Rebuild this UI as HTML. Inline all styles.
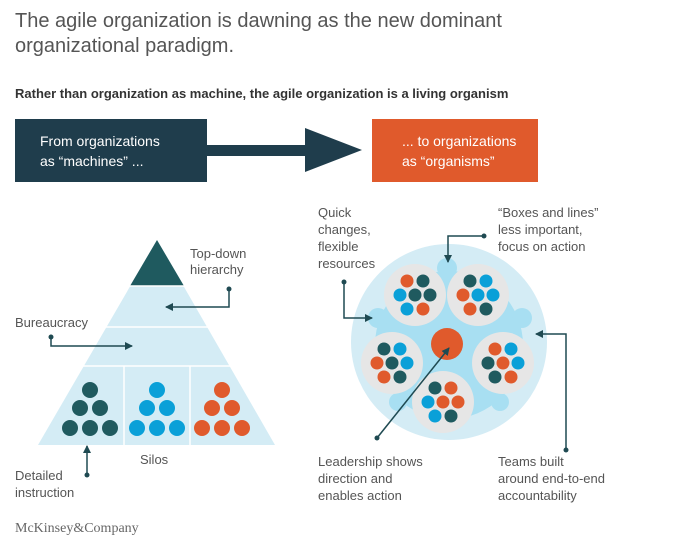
<!DOCTYPE html>
<html><head><meta charset="utf-8"><style>
body{margin:0;width:700px;height:549px;background:#fff;overflow:hidden;font-family:"Liberation Sans",sans-serif}
</style></head><body>
<svg width="700" height="549" xmlns="http://www.w3.org/2000/svg" font-family="Liberation Sans, sans-serif">
<defs>
<marker id="ah" markerWidth="8" markerHeight="8" refX="7" refY="4" orient="auto" markerUnits="userSpaceOnUse"><path d="M0,0L8,4L0,8z" fill="#1f4a52"/></marker>
</defs>
<text x="15" y="27" font-size="20" fill="#555">The agile organization is dawning as the new dominant</text>
<text x="15" y="52" font-size="20" fill="#555">organizational paradigm.</text>
<text x="15" y="98" font-size="13" font-weight="bold" fill="#333">Rather than organization as machine, the agile organization is a living organism</text>
<rect x="15" y="119" width="192" height="63" fill="#1f3d4c"/>
<text x="40" y="146" font-size="14" fill="#fff">From organizations</text>
<text x="40" y="166" font-size="14" fill="#fff">as “machines” ...</text>
<path d="M207,145H305V128L362,150L305,172V156H207z" fill="#1f3d4c"/>
<rect x="372" y="119" width="166" height="63" fill="#e05a2c"/>
<text x="402" y="146" font-size="14" fill="#fff">... to organizations</text>
<text x="402" y="166" font-size="14" fill="#fff">as “organisms”</text>
<!-- pyramid -->
<polygon points="157,240 38,445 275,445" fill="#d4ecf5"/>
<polygon points="157,240 130,286 184,286" fill="#1f5a5f"/>
<line x1="130" y1="286" x2="184" y2="286" stroke="#fff" stroke-width="1.5"/>
<line x1="100" y1="327" x2="215" y2="327" stroke="#fff" stroke-width="1.5"/>
<line x1="76" y1="366" x2="240" y2="366" stroke="#fff" stroke-width="1.5"/>
<line x1="124" y1="366" x2="124" y2="445" stroke="#fff" stroke-width="1.5"/>
<line x1="190" y1="366" x2="190" y2="445" stroke="#fff" stroke-width="1.5"/>
<g fill="#1f5a5f"><circle cx="90" cy="390" r="8"/><circle cx="80" cy="408" r="8"/><circle cx="100" cy="408" r="8"/><circle cx="70" cy="428" r="8"/><circle cx="90" cy="428" r="8"/><circle cx="110" cy="428" r="8"/></g>
<g fill="#0aa0d8"><circle cx="157" cy="390" r="8"/><circle cx="147" cy="408" r="8"/><circle cx="167" cy="408" r="8"/><circle cx="137" cy="428" r="8"/><circle cx="157" cy="428" r="8"/><circle cx="177" cy="428" r="8"/></g>
<g fill="#e05a2c"><circle cx="222" cy="390" r="8"/><circle cx="212" cy="408" r="8"/><circle cx="232" cy="408" r="8"/><circle cx="202" cy="428" r="8"/><circle cx="222" cy="428" r="8"/><circle cx="242" cy="428" r="8"/></g>
<g font-size="13" fill="#555">
<text x="190" y="258">Top-down</text><text x="190" y="274">hierarchy</text>
<text x="15" y="327">Bureaucracy</text>
<text x="140" y="464">Silos</text>
<text x="15" y="480">Detailed</text><text x="15" y="497">instruction</text>
</g>
<g stroke="#1f4a52" stroke-width="1.5" fill="none">
<path d="M229,289V307H166" marker-end="url(#ah)"/>
<path d="M51,337V346H132" marker-end="url(#ah)"/>
<path d="M87,475V446" marker-end="url(#ah)"/>
</g>
<g fill="#1f4a52"><circle cx="229" cy="289" r="2.5"/><circle cx="51" cy="337" r="2.5"/><circle cx="87" cy="475" r="2.5"/></g>
<!-- organism -->
<circle cx="449" cy="342" r="98" fill="#d4ecf5"/>
<circle cx="449" cy="345" r="74" fill="#a8dff2"/>
<g fill="#a8dff2"><circle cx="447" cy="268" r="10"/><circle cx="378" cy="318" r="10"/><circle cx="522" cy="318" r="10"/><circle cx="398" cy="402" r="9"/><circle cx="500" cy="402" r="9"/></g>
<g fill="#e6e6e6"><circle cx="415" cy="295" r="31"/><circle cx="478" cy="295" r="31"/><circle cx="392" cy="363" r="31"/><circle cx="503" cy="363" r="31"/><circle cx="443" cy="402" r="31"/></g>
<circle cx="447" cy="344" r="16" fill="#e05a2c"/>
<!-- dots -->
<g><circle cx="407" cy="281" r="6.5" fill="#e05a2c"/><circle cx="423" cy="281" r="6.5" fill="#1f5a5f"/>
<circle cx="400" cy="295" r="6.5" fill="#0aa0d8"/><circle cx="415" cy="295" r="6.5" fill="#1f5a5f"/><circle cx="430" cy="295" r="6.5" fill="#1f5a5f"/>
<circle cx="407" cy="309" r="6.5" fill="#0aa0d8"/><circle cx="423" cy="309" r="6.5" fill="#e05a2c"/></g>
<g><circle cx="470" cy="281" r="6.5" fill="#1f5a5f"/><circle cx="486" cy="281" r="6.5" fill="#0aa0d8"/>
<circle cx="463" cy="295" r="6.5" fill="#e05a2c"/><circle cx="478" cy="295" r="6.5" fill="#0aa0d8"/><circle cx="493" cy="295" r="6.5" fill="#0aa0d8"/>
<circle cx="470" cy="309" r="6.5" fill="#e05a2c"/><circle cx="486" cy="309" r="6.5" fill="#1f5a5f"/></g>
<g><circle cx="384" cy="349" r="6.5" fill="#1f5a5f"/><circle cx="400" cy="349" r="6.5" fill="#0aa0d8"/>
<circle cx="377" cy="363" r="6.5" fill="#e05a2c"/><circle cx="392" cy="363" r="6.5" fill="#1f5a5f"/><circle cx="407" cy="363" r="6.5" fill="#0aa0d8"/>
<circle cx="384" cy="377" r="6.5" fill="#e05a2c"/><circle cx="400" cy="377" r="6.5" fill="#1f5a5f"/></g>
<g><circle cx="495" cy="349" r="6.5" fill="#e05a2c"/><circle cx="511" cy="349" r="6.5" fill="#0aa0d8"/>
<circle cx="488" cy="363" r="6.5" fill="#1f5a5f"/><circle cx="503" cy="363" r="6.5" fill="#e05a2c"/><circle cx="518" cy="363" r="6.5" fill="#0aa0d8"/>
<circle cx="495" cy="377" r="6.5" fill="#1f5a5f"/><circle cx="511" cy="377" r="6.5" fill="#e05a2c"/></g>
<g><circle cx="435" cy="388" r="6.5" fill="#1f5a5f"/><circle cx="451" cy="388" r="6.5" fill="#e05a2c"/>
<circle cx="428" cy="402" r="6.5" fill="#0aa0d8"/><circle cx="443" cy="402" r="6.5" fill="#e05a2c"/><circle cx="458" cy="402" r="6.5" fill="#e05a2c"/>
<circle cx="435" cy="416" r="6.5" fill="#0aa0d8"/><circle cx="451" cy="416" r="6.5" fill="#1f5a5f"/></g>
<g font-size="13" fill="#555">
<text x="318" y="217">Quick</text><text x="318" y="234">changes,</text><text x="318" y="251">flexible</text><text x="318" y="268">resources</text>
<text x="498" y="217">“Boxes and lines”</text><text x="498" y="234">less important,</text><text x="498" y="251">focus on action</text>
<text x="318" y="466">Leadership shows</text><text x="318" y="483">direction and</text><text x="318" y="500">enables action</text>
<text x="498" y="466">Teams built</text><text x="498" y="483">around end-to-end</text><text x="498" y="500">accountability</text>
</g>
<g stroke="#1f4a52" stroke-width="1.5" fill="none">
<path d="M484,236H448V262" marker-end="url(#ah)"/>
<path d="M344,282V318H372" marker-end="url(#ah)"/>
<path d="M566,450V334H536" marker-end="url(#ah)"/>
<path d="M377,438L449,348" marker-end="url(#ah)"/>
</g>
<g fill="#1f4a52"><circle cx="484" cy="236" r="2.5"/><circle cx="344" cy="282" r="2.5"/><circle cx="566" cy="450" r="2.5"/><circle cx="377" cy="438" r="2.5"/></g>
<text x="15" y="532" font-size="14" font-family="Liberation Serif, serif" fill="#666">McKinsey&amp;Company</text>
</svg>
</body></html>
